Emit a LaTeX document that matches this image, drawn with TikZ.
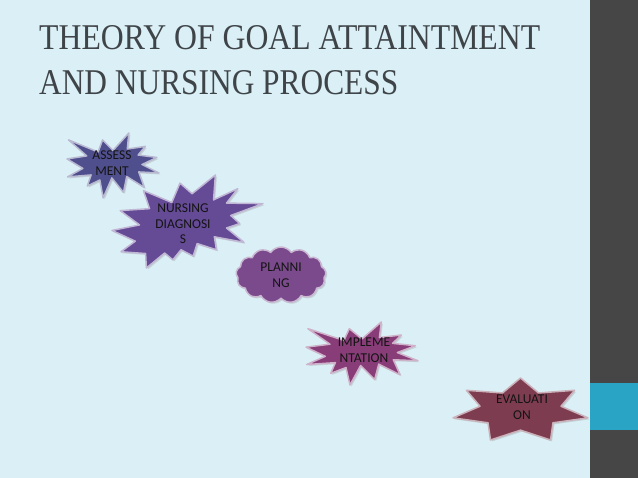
\documentclass[tikz,border=0pt]{standalone}
\usepackage{fontspec}
\setmainfont{Liberation Serif}
\newfontfamily\shapefont{Carlito}
\usepackage{graphicx}
\usepackage{xcolor}
\usetikzlibrary{shapes.symbols,shadows,positioning}

\definecolor{slidebg}{HTML}{DAF0F6}
\definecolor{sidebar}{HTML}{464646}
\definecolor{sidecyan}{HTML}{2AA4C5}
\definecolor{titlegray}{HTML}{3F4448}
\definecolor{assesscol}{HTML}{504F8E}
\definecolor{diagcol}{HTML}{654A96}
\definecolor{plancol}{HTML}{7A4A8C}
\definecolor{implcol}{HTML}{883C78}
\definecolor{evalcol}{HTML}{7D3C50}

% outlines in a 100 x 100 box
\newcommand{\boomone}{(50,26.85) -- (67.23,0) -- (65.53,24.65) -- (85.09,20.63)
  -- (77.32,33.87) -- (97.67,37.67) -- (81.51,48.50) -- (100,61.53)
  -- (77.95,59.92) -- (84.00,83.77) -- (64.91,66.93) -- (61.33,91.38)
  -- (48.76,69.14) -- (39.28,100) -- (35.72,72.35) -- (22.05,81.56)
  -- (26.24,64.52) -- (0.63,67.53) -- (17.23,54.51) -- (0,39.88)
  -- (21.42,35.26) -- (1.71,10.63) -- (33.85,29.26) -- (38.67,10.63) -- cycle}
\newcommand{\boomtwo}{(53.06,20.10) -- (68.47,0) -- (67.25,26.75) -- (83.37,14.69)
  -- (75.83,30.24) -- (100,30.76) -- (78.63,43.53) -- (84.58,52.27)
  -- (75.83,56.99) -- (87.39,72.37) -- (67.78,66.44) -- (69.18,80.42)
  -- (56.39,73.77) -- (53.76,87.23) -- (45.70,80.42) -- (40.28,91.26)
  -- (34.85,83.91) -- (22.76,100) -- (22.25,84.44) -- (5.95,82.52)
  -- (15.42,71.16) -- (0,59.62) -- (18.22,53.67) -- (5.43,38.29)
  -- (24.87,36.19) -- (20.84,16.78) -- (39.58,29.55) -- (45.01,8.74) -- cycle}
% seven points, unit radius
\newcommand{\starseven}{(90:1) -- (64.29:0.6) -- (38.57:1) -- (12.86:0.6)
  -- (-12.86:1) -- (-38.57:0.6) -- (-64.29:1) -- (-90:0.6) -- (-115.71:1)
  -- (-141.43:0.6) -- (-167.14:1) -- (167.14:0.6) -- (141.43:1) -- (115.71:0.6) -- cycle}

\begin{document}
\begin{tikzpicture}[
x=1pt, y=-1pt,
shapelbl/.style={
  font=\shapefont\fontsize{13.5}{15.5}\selectfont,
  text=black!92,
  align=center,
  inner sep=0pt
},
boom/.style={
  fill=#1,
  draw=#1!40!white,
  line width=1.5pt,
  line join=round,
  drop shadow={opacity=0.25,shadow xshift=1.5pt,shadow yshift=-1.5pt}
},
titleline/.style={
  anchor=base west,
  inner sep=0pt,
  text=titlegray
}
]
\fill[slidebg] (0,0) rectangle (638,478);
\useasboundingbox (0,0) rectangle (638,478);
\fill[sidebar] (590,0) rectangle (638,478);
\fill[sidecyan] (590,383) rectangle (638,430);

\node[titleline] (title1) at (39,50)
  {\resizebox{501pt}{24pt}{THEORY OF GOAL ATTAINTMENT}};
\node[titleline] (title2) at (39,94.5)
  {\resizebox{359pt}{24pt}{AND NURSING PROCESS}};

\begin{scope}[shift={(67,133)},xscale=0.92,yscale=0.65]
\path[boom=assesscol] \boomone;
\end{scope}
\begin{scope}[shift={(112,175)},xscale=1.51,yscale=0.93]
\path[boom=diagcol] \boomtwo;
\end{scope}
\begin{scope}[shift={(306,322)},xscale=1.12,yscale=0.63]
\path[boom=implcol] \boomone;
\end{scope}
\begin{scope}[shift={(520.5,410.6)},xscale=69.2,yscale=-32.6]
\path[boom=evalcol] \starseven;
\end{scope}

\node[shapelbl] (assess) at (112,163) {ASSESS\\MENT};
\node[shapelbl] (diag) at (183,224) {NURSING\\DIAGNOSI\\S};
\node[shapelbl,cloud,cloud puffs=13,cloud puff arc=110,aspect=1.6,
  minimum width=90pt,minimum height=56pt,boom=plancol]
  (plan) at (281,275) {PLANNI\\NG};
\node[shapelbl] (impl) at (364,350) {IMPLEME\\NTATION};
\node[shapelbl] (eval) at (522,407) {EVALUATI\\ON};
\end{tikzpicture}
\end{document}
